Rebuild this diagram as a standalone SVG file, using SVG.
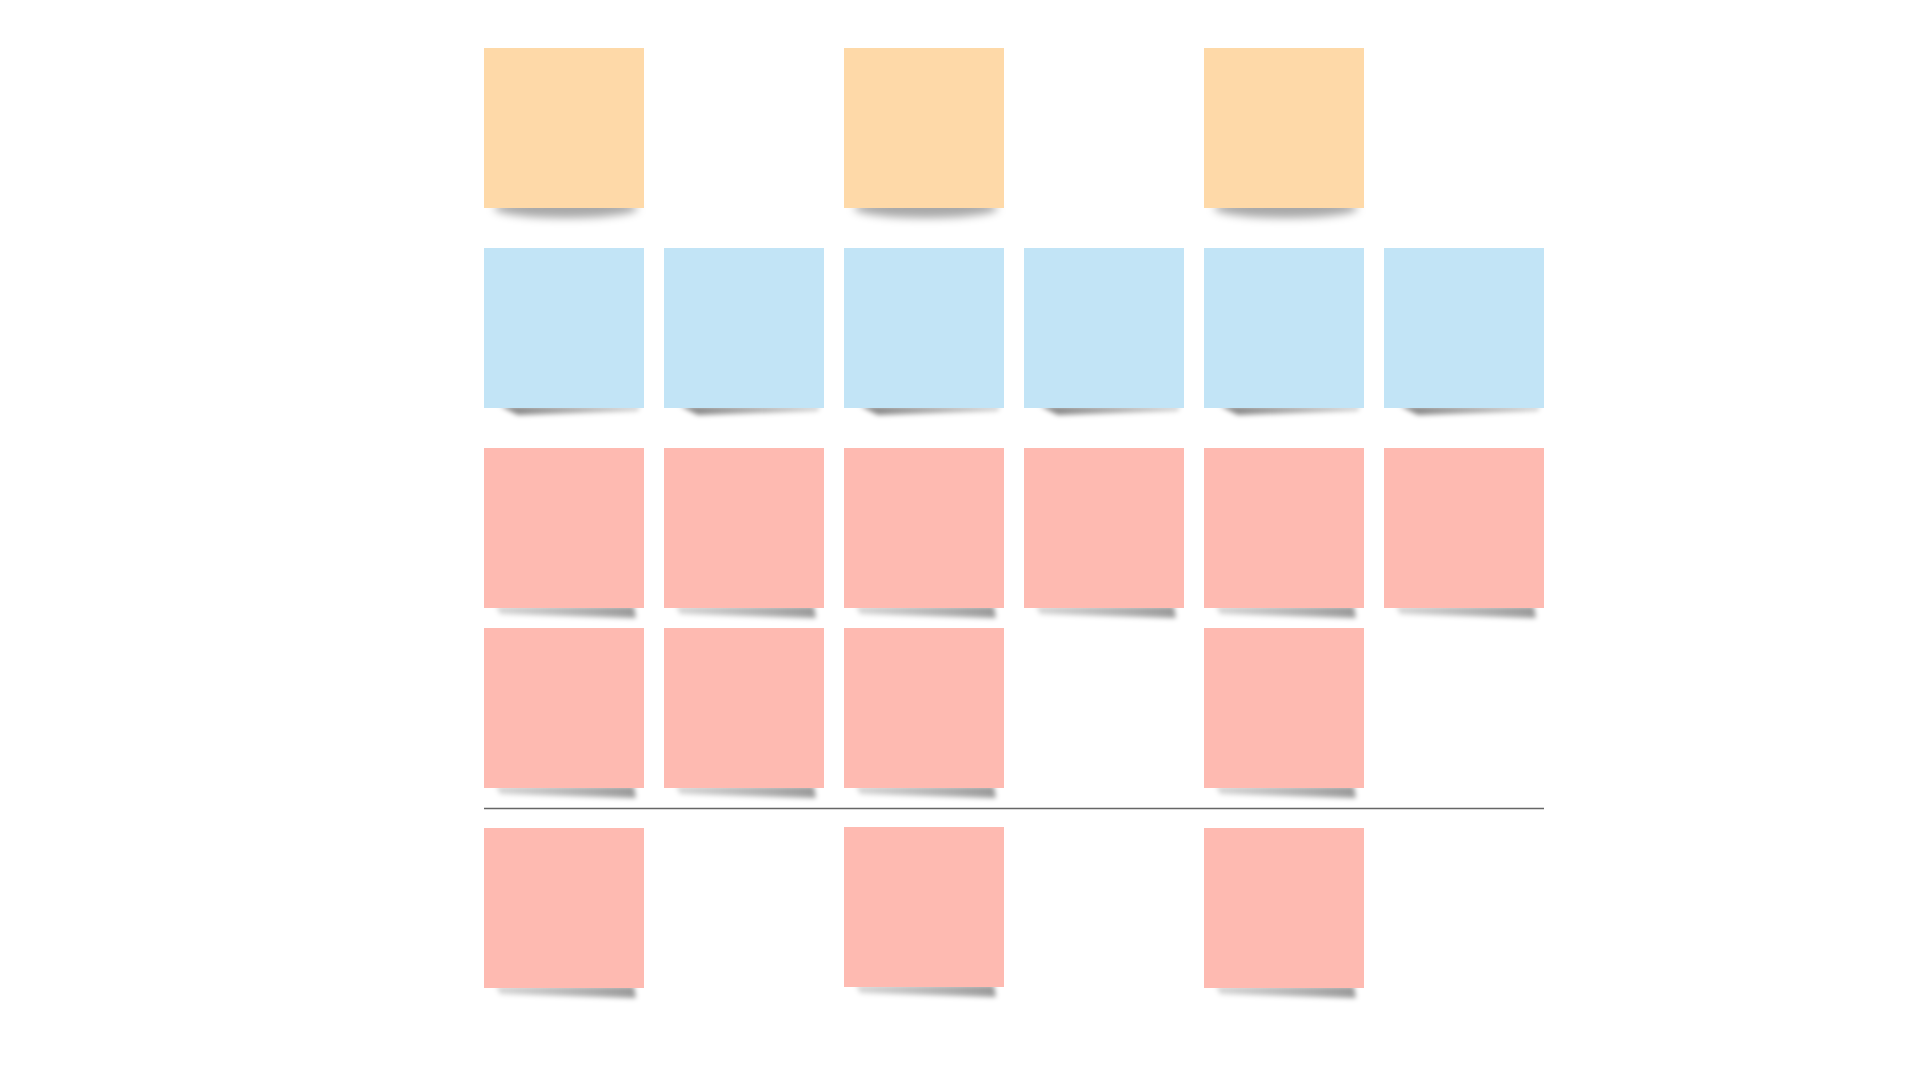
<svg xmlns="http://www.w3.org/2000/svg" width="1916" height="1077" viewBox="0 0 1916 1077">
<style>
.o{fill:#FED9A8}
.b{fill:#C2E4F6}
.p{fill:#FEBAB1}
.sep{stroke:#666666;stroke-width:1.3;fill:none}
</style>
<defs>
<filter id="blur" x="-20%" y="-200%" width="140%" height="500%"><feGaussianBlur stdDeviation="2.6"/></filter>
<filter id="blurO" x="-30%" y="-200%" width="160%" height="500%"><feGaussianBlur stdDeviation="4.5"/></filter>
<linearGradient id="gb" x1="0" x2="1" y1="0" y2="0"><stop offset="0" stop-color="#000" stop-opacity="0.5"/><stop offset="1" stop-color="#000" stop-opacity="0.18"/></linearGradient>
<linearGradient id="gp" x1="0" x2="1" y1="0" y2="0"><stop offset="0" stop-color="#000" stop-opacity="0.16"/><stop offset="1" stop-color="#000" stop-opacity="0.4"/></linearGradient>
<ellipse id="so" cx="82" cy="160" rx="72" ry="10" fill="#000" fill-opacity="0.34" filter="url(#blurO)"/>
<path id="sb" d="M16,158 L156,158 L154,163 L34,167 Z" fill="url(#gb)" filter="url(#blur)"/>
<path id="sp" d="M12,158 L150,158 L152,170 L16,166 Z" fill="url(#gp)" filter="url(#blur)"/>
<g id="no"><use href="#so"/><rect class="o" width="160" height="160"/></g>
<g id="nb"><use href="#sb"/><rect class="b" width="160" height="160"/></g>
<g id="np"><use href="#sp"/><rect class="p" width="160" height="160"/></g>
</defs>
<rect width="1916" height="1077" fill="#ffffff"/>
<g id="n-o1" transform="translate(484,48)"><use href="#no"/></g>
<g id="n-o2" transform="translate(844,48)"><use href="#no"/></g>
<g id="n-o3" transform="translate(1204,48)"><use href="#no"/></g>
<g id="n-b1" transform="translate(484,248)"><use href="#nb"/></g>
<g id="n-b2" transform="translate(664,248)"><use href="#nb"/></g>
<g id="n-b3" transform="translate(844,248)"><use href="#nb"/></g>
<g id="n-b4" transform="translate(1024,248)"><use href="#nb"/></g>
<g id="n-b5" transform="translate(1204,248)"><use href="#nb"/></g>
<g id="n-b6" transform="translate(1384,248)"><use href="#nb"/></g>
<g id="n-p1" transform="translate(484,448)"><use href="#np"/></g>
<g id="n-p2" transform="translate(664,448)"><use href="#np"/></g>
<g id="n-p3" transform="translate(844,448)"><use href="#np"/></g>
<g id="n-p4" transform="translate(1024,448)"><use href="#np"/></g>
<g id="n-p5" transform="translate(1204,448)"><use href="#np"/></g>
<g id="n-p6" transform="translate(1384,448)"><use href="#np"/></g>
<g id="n-p7" transform="translate(484,628)"><use href="#np"/></g>
<g id="n-p8" transform="translate(664,628)"><use href="#np"/></g>
<g id="n-p9" transform="translate(844,628)"><use href="#np"/></g>
<g id="n-p10" transform="translate(1204,628)"><use href="#np"/></g>
<g id="connectors"><line class="sep" x1="484" y1="808.5" x2="1544" y2="808.5"/></g>
<g id="n-p11" transform="translate(484,828)"><use href="#np"/></g>
<g id="n-p12" transform="translate(844,827)"><use href="#np"/></g>
<g id="n-p13" transform="translate(1204,828)"><use href="#np"/></g>
</svg>
